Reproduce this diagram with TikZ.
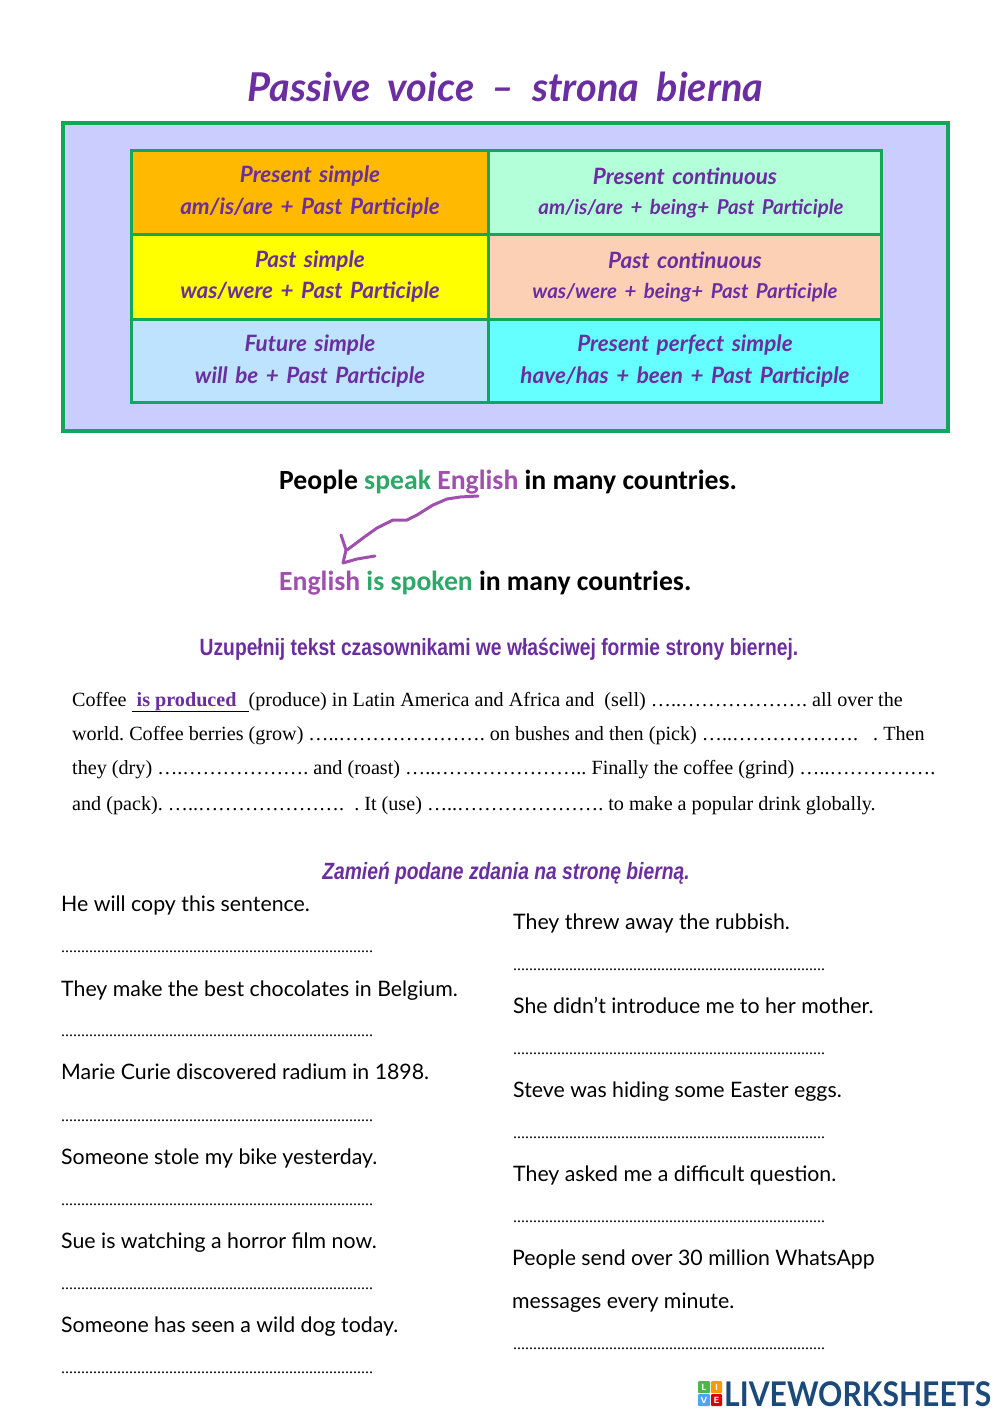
\documentclass[tikz,border=0pt]{standalone}
\usepackage{fontspec}
\setmainfont{Liberation Serif}
\newfontfamily\comicfont{Lato}
\newfontfamily\headfont[FakeStretch=0.82]{Liberation Sans}
\newfontfamily\calloutfont{Carlito}
\newfontfamily\logofont[FakeStretch=0.885]{Lato}
\definecolor{titlepurple}{HTML}{6A2EA0}
\definecolor{framegreen}{HTML}{12A65A}
\definecolor{bandblue}{HTML}{CBCCFF}
\definecolor{cellorange}{HTML}{FFB900}
\definecolor{cellmint}{HTML}{B3FFD9}
\definecolor{cellyellow}{HTML}{FFFF00}
\definecolor{cellpeach}{HTML}{FBD0B5}
\definecolor{cellblue}{HTML}{BDE3FF}
\definecolor{cellcyan}{HTML}{66FFFF}
\definecolor{keypurple}{HTML}{A04FAE}
\definecolor{keygreen}{HTML}{2EA868}
\definecolor{logoblue}{HTML}{1B4A7A}
\def\tendots{..........}
\def\dotrow{\tendots\tendots\tendots\tendots\tendots\tendots\tendots........}
\begin{document}
\begin{tikzpicture}[x=1pt,y=-1pt]
\tikzset{cell/.style={draw=framegreen, line width=3pt, inner sep=0pt, anchor=north west},
  rule/.style={font=\comicfont\itshape\bfseries\fontsize{22.5}{22.5}\selectfont, execute at begin node={\spaceskip=7.5pt\relax}, text=titlepurple, anchor=base},
  rulesmall/.style={font=\comicfont\itshape\bfseries\fontsize{20.5}{20.5}\selectfont, execute at begin node={\spaceskip=7.5pt\relax}, text=titlepurple, anchor=base},
  callout/.style={font=\calloutfont\bfseries\fontsize{27.7}{27.7}\selectfont, anchor=base west},
  heading/.style={font=\headfont\bfseries\fontsize{23.5}{23.5}\selectfont, text=titlepurple, anchor=base},
  para/.style={font=\fontsize{20.15}{20.15}\selectfont, execute at begin node=\frenchspacing, anchor=base west},
  sentence/.style={font=\comicfont\fontsize{21.3}{21.3}\selectfont, anchor=base west},
  dotrow/.style={font=\fontsize{16}{16}\selectfont, anchor=base west, inner sep=0pt},
  scrawl/.style={draw=keypurple, line width=3pt, line cap=round, line join=round},
  logotile/.style={font=\sffamily\bfseries\fontsize{9}{9}\selectfont, text=white, inner sep=0pt}}
\useasboundingbox (0,0) rectangle (1000,1413);
\fill[white] (0,0) rectangle (1000,1413);
% title and table
\node[font=\comicfont\itshape\bfseries\fontsize{39.7}{39.7}\selectfont, text=titlepurple, anchor=base] (T0) at (505.5,101) {Passive\ \ voice\ \ –\ \ strona\ \ bierna};
\node[draw=framegreen, line width=4pt, fill=bandblue, inner sep=0pt, anchor=north west, minimum width=885pt, minimum height=308pt] (F0) at (61,121) {};
\node[cell, fill=cellorange, minimum width=357pt, minimum height=84pt] (C1) at (130,149) {};
\node[cell, fill=cellmint, minimum width=393pt, minimum height=84pt] (C2) at (487,149) {};
\node[cell, fill=cellyellow, minimum width=357pt, minimum height=85pt] (C3) at (130,233) {};
\node[cell, fill=cellpeach, minimum width=393pt, minimum height=85pt] (C4) at (487,233) {};
\node[cell, fill=cellblue, minimum width=357pt, minimum height=83pt] (C5) at (130,318) {};
\node[cell, fill=cellcyan, minimum width=393pt, minimum height=83pt] (C6) at (487,318) {};
\node[rule] (R1) at (310,182) {Present simple};
\node[rule] (R2) at (310,214) {am/is/are + Past Participle};
\node[rule] (R3) at (685,184) {Present continuous};
\node[rulesmall] (R4) at (691,214) {am/is/are + being+ Past Participle};
\node[rule] (R5) at (310,267) {Past simple};
\node[rule] (R6) at (310,298) {was/were + Past Participle};
\node[rule] (R7) at (685,268) {Past continuous};
\node[rulesmall] (R8) at (685,298) {was/were + being+ Past Participle};
\node[rule] (R9) at (310,351) {Future simple};
\node[rule] (R10) at (310,383) {will be + Past Participle};
\node[rule] (R11) at (685,351) {Present perfect simple};
\node[rule] (R12) at (685,383) {have/has + been + Past Participle};
% example sentences
\node[callout, inner sep=0pt] (S1) at (279,489) {People \textcolor{keygreen}{speak} \textcolor{keypurple}{English} in many countries.};
\node[callout, inner sep=0pt] (S2) at (279,590) {\textcolor{keypurple}{English} \textcolor{keygreen}{is spoken} in many countries.};
\coordinate (A0) at (478,496);
\coordinate (A1) at (347,550);
\draw[scrawl] (A0) -- (460,497) -- (447,499) -- (433,505) -- (417,515) -- (407,520) -- (393,520) -- (377,528) -- (363,538) -- (A1);
\draw[scrawl] (341,535) -- (346,550) -- (343,563) -- (357,559) -- (375,556);
% fill in exercise
\node[heading] (H1) at (499,655) {Uzupełnij tekst czasownikami we właściwej formie strony biernej.};
\node[para, inner sep=0pt] (P1) at (72,706) {Coffee \underline{\ \textcolor{titlepurple}{\textbf{is produced}}\ \hspace{7pt}}(produce) in Latin America and Africa and\ \ (sell) …..………………. all over the};
\node[para, inner sep=0pt] (P2) at (72,740) {world. Coffee berries (grow) …..…………………. on bushes and then (pick) …..……………….\ \ \ . Then};
\node[para, inner sep=0pt] (P3) at (72,774.5) {they (dry) ….………………. and (roast) …..………………….. Finally the coffee (grind) …..…………….};
\node[para, inner sep=0pt] (P4) at (72,810) {and (pack). …..………………….\ \ . It (use) …..…………………. to make a popular drink globally.};
% rewrite exercise
\node[font=\headfont\bfseries\itshape\fontsize{23.5}{23.5}\selectfont, text=titlepurple, anchor=base] (H2) at (506,879) {Zamień podane zdania na stronę bierną.};
\node[sentence, inner sep=0pt] (L1) at (61,911) {He will copy this sentence.};
\node[dotrow] (D1) at (61,952) {\dotrow};
\node[sentence, inner sep=0pt] (L2) at (61,996) {They make the best chocolates in Belgium.};
\node[dotrow] (D2) at (61,1036) {\dotrow};
\node[sentence, inner sep=0pt] (L3) at (61,1079) {Marie Curie discovered radium in 1898.};
\node[dotrow] (D3) at (61,1121) {\dotrow};
\node[sentence, inner sep=0pt] (L4) at (61,1164) {Someone stole my bike yesterday.};
\node[dotrow] (D4) at (61,1205) {\dotrow};
\node[sentence, inner sep=0pt] (L5) at (61,1248) {Sue is watching a horror film now.};
\node[dotrow] (D5) at (61,1289) {\dotrow};
\node[sentence, inner sep=0pt] (L6) at (61,1332) {Someone has seen a wild dog today.};
\node[dotrow] (D6) at (61,1373) {\dotrow};
\node[sentence, inner sep=0pt] (M1) at (513,929) {They threw away the rubbish.};
\node[dotrow] (E1) at (513,970) {\dotrow};
\node[sentence, inner sep=0pt] (M2) at (513,1013) {She didn’t introduce me to her mother.};
\node[dotrow] (E2) at (513,1054) {\dotrow};
\node[sentence, inner sep=0pt] (M3) at (513,1097) {Steve was hiding some Easter eggs.};
\node[dotrow] (E3) at (513,1138) {\dotrow};
\node[sentence, inner sep=0pt] (M4) at (513,1181) {They asked me a difficult question.};
\node[dotrow] (E4) at (513,1222) {\dotrow};
\node[sentence, inner sep=0pt] (M5) at (512,1265) {People send over 30 million WhatsApp};
\node[sentence, inner sep=0pt] (M6) at (512,1308) {messages every minute.};
\node[dotrow] (E5) at (513,1349) {\dotrow};
% logo
\fill[rounded corners=1pt, green!60!black!70] (698,1381) rectangle (710,1393);
\fill[rounded corners=1pt, orange!80!yellow] (711,1381) rectangle (722,1393);
\fill[rounded corners=1pt, blue!50!cyan!70] (698,1394) rectangle (710,1406);
\fill[rounded corners=1pt, red!85!black] (711,1394) rectangle (722,1406);
\node[logotile] (G1) at (704,1387) {L};
\node[logotile] (G2) at (716.5,1387) {I};
\node[logotile] (G3) at (704,1400) {V};
\node[logotile] (G4) at (716.5,1400) {E};
\node[font=\logofont\bfseries\fontsize{34}{34}\selectfont, text=logoblue, inner sep=0pt, anchor=base west] (G0) at (724,1406) {LIVEWORKSHEETS};
\end{tikzpicture}
\end{document}
